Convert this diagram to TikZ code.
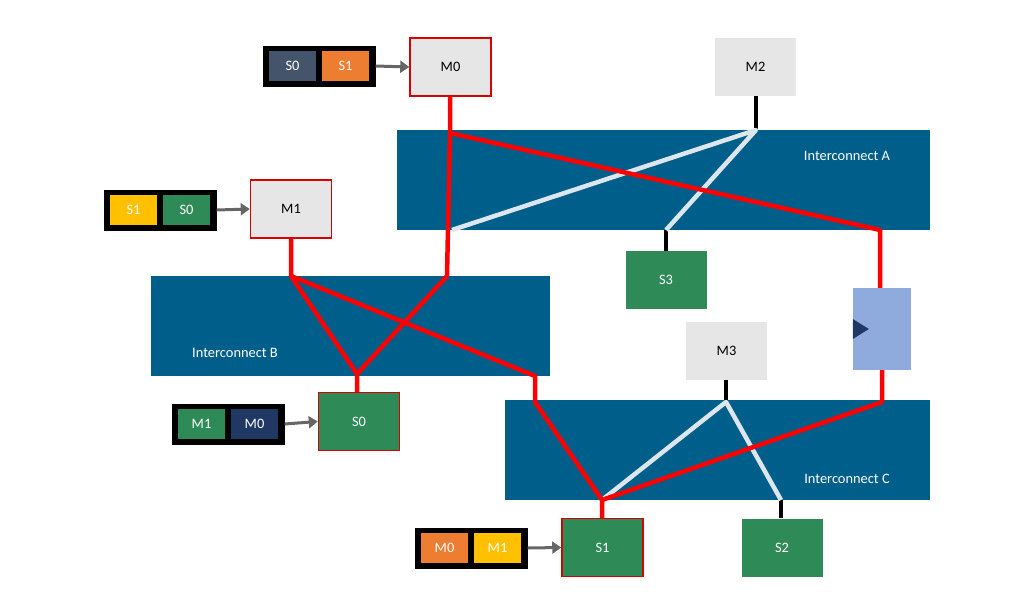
\documentclass[tikz,border=0pt]{standalone}
\usepackage{fontspec}
\setmainfont{Carlito}
\usetikzlibrary{positioning,arrows.meta}
\definecolor{icblue}{RGB}{0,94,138}
\definecolor{mgray}{RGB}{231,230,230}
\definecolor{sgreen}{RGB}{46,139,87}
\definecolor{slate}{RGB}{68,84,106}
\definecolor{torange}{RGB}{237,125,49}
\definecolor{tyellow}{RGB}{255,192,0}
\definecolor{tnavy}{RGB}{31,56,100}
\definecolor{regblue}{RGB}{143,170,220}
\definecolor{pathgray}{RGB}{220,230,236}
\tikzstyle{Interconnect}=[rectangle, fill=icblue, inner sep=0pt, minimum height=100pt]
\tikzstyle{Master}=[rectangle, fill=mgray, minimum width=81pt, minimum height=58pt, font=\Large]
\tikzstyle{Slave}=[rectangle, fill=sgreen, text=white, minimum width=81pt, minimum height=58pt, font=\Large]
\tikzstyle{Active}=[draw=red!85!black, line width=1.5pt]
\tikzstyle{Frame}=[rectangle, fill=black, minimum width=113pt, minimum height=41pt]
\tikzstyle{Tag}=[rectangle, text=white, minimum width=47pt, minimum height=30pt, inner sep=0pt, font=\Large]
\tikzstyle{Flecha}=[-{Triangle[length=9pt,width=12pt]}, draw=gray!80!black, line width=3pt]
\tikzstyle{RedPath}=[draw=red, line width=4.5pt, line join=round]
\tikzstyle{GrayPath}=[draw=pathgray, line width=4.5pt, line join=round]
\tikzstyle{Stub}=[draw=black, line width=4.5pt]
\tikzstyle{IcLabel}=[text=white, font=\Large]
\begin{document}
\begin{tikzpicture}[x=1pt, y=-1pt]
			\useasboundingbox (0,0) rectangle (1018,592);
			%Interconnects
			\node[Interconnect, minimum width=533pt] (icA) at (663.5,180) {};
			\node[Interconnect, minimum width=399pt] (icB) at (350.5,325.5) {};
			\node[Interconnect, minimum width=425pt] (icC) at (717.5,450) {};
			\node[IcLabel] (labA) at (847,156) {Interconnect A};
			\node[IcLabel] (labB) at (235,353) {Interconnect B};
			\node[IcLabel] (labC) at (847,479) {Interconnect C};

			%Nodos
			\node[Master, Active] (m0) at (450.5,67) {M0};
			\node[Master] (m2) at (755.5,67) {M2};
			\node[Master, Active] (m1) at (291,209) {M1};
			\node[Master] (m3) at (726.5,351) {M3};
			\node[Slave] (s3) at (666,280) {S3};
			\node[Slave, Active] (s0) at (359,421.5) {S0};
			\node[Slave, Active] (s1) at (602.5,547.5) {S1};
			\node[Slave] (s2) at (782,547.5) {S2};
			\node[rectangle, fill=regblue, minimum width=58pt, minimum height=82pt] (reg) at (882,329) {};
			\fill[tnavy] (reg.west) ++(0,-10) -- ++(16,10) -- ++(-16,10) -- cycle;

			%Coordenadas
			\coordinate (jA) at (450,133);
			\coordinate (jAr) at (880,230);
			\coordinate (jB0) at (447,276);
			\coordinate (jB1) at (291,276);
			\coordinate (jS0) at (357,374);
			\coordinate (jBr) at (535,376);
			\coordinate (jC) at (535,402);
			\coordinate (jS1) at (602,500);
			\coordinate (jRr) at (882,402);
			\coordinate (jM2) at (756,130);
			\coordinate (jA0) at (452,230);
			\coordinate (jS3) at (666,230);
			\coordinate (jM3) at (726,402);
			\coordinate (jS2) at (781,500);

			%Lineas
			\draw[Stub] (m2.south -| jM2) -- (jM2);
			\draw[Stub] (jS3) -- (s3.north -| jS3);
			\draw[Stub] (m3.south -| jM3) -- (jM3);
			\draw[Stub] (jS2) -- (s2.north -| jS2);
			\draw[GrayPath] (jA0) -- (jM2) -- (jS3);
			\draw[GrayPath] (jS1) -- (jM3) -- (jS2);
			\draw[RedPath] (m0.south -| jA) -- (jA) -- (jAr) -- (reg.north -| jAr);
			\draw[RedPath] (jA) -- (jB0) -- (jS0) -- (s0.north -| jS0);
			\draw[RedPath] (m1.south -| jB1) -- (jB1) -- (jS0);
			\draw[RedPath] (jB1) -- (jBr) -- (jC) -- (jS1) -- (s1.north -| jS1);
			\draw[RedPath] (reg.south) -- (jRr) -- (jS1);

			%Etiquetas
			\node[Frame] (f0) at (319,66) {};
			\node[Tag, fill=slate] (f0a) at (292.5,66) {S0};
			\node[Tag, fill=torange] (f0b) at (345.5,66) {S1};
			\node[Frame] (f1) at (160,210) {};
			\node[Tag, fill=tyellow] (f1a) at (133.5,210) {S1};
			\node[Tag, fill=sgreen] (f1b) at (186.5,210) {S0};
			\node[Frame] (f2) at (228,424) {};
			\node[Tag, fill=sgreen] (f2a) at (201.5,424) {M1};
			\node[Tag, fill=tnavy] (f2b) at (254.5,424) {M0};
			\node[Frame] (f3) at (471,548) {};
			\node[Tag, fill=torange] (f3a) at (444.5,548) {M0};
			\node[Tag, fill=tyellow] (f3b) at (497.5,548) {M1};
			\draw[Flecha] (f0.east) -- (m0.west);
			\draw[Flecha] (f1.east) -- (m1.west);
			\draw[Flecha] (f2.east) -- (s0.west);
			\draw[Flecha] (f3.east) -- (s1.west);
\end{tikzpicture}
\end{document}
